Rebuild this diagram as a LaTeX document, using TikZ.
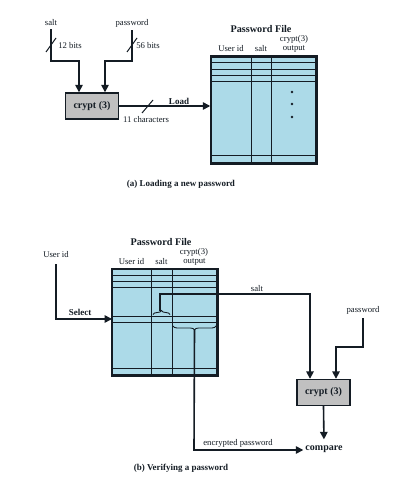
\documentclass[tikz,border=0pt]{standalone}
\usepackage{fontspec}
\setmainfont{Liberation Serif}
\usetikzlibrary{arrows.meta,decorations.pathreplacing,calc}
\definecolor{tabblue}{RGB}{172,218,232}
\definecolor{boxgray}{RGB}{192,192,192}
\definecolor{ink}{RGB}{20,28,36}
\begin{document}
\begin{tikzpicture}[x=1pt,y=-1pt,
  conn/.style={draw=ink,line width=1.6pt,-{Triangle[length=7.5pt,width=7.5pt]}},
  slashmark/.style={draw=ink,line width=1pt},
  lbl/.style={font=\fontsize{8.7}{10}\selectfont,inner sep=0pt,text=ink},
  blbl/.style={font=\fontsize{9}{10}\selectfont\bfseries,inner sep=0pt,text=ink},
  titlelbl/.style={font=\fontsize{10.2}{11}\selectfont\bfseries,inner sep=0pt,text=ink},
  cryptbox/.style={draw=ink,line width=1.4pt,fill=boxgray,minimum width=53pt,minimum height=26pt,
    font=\fontsize{10}{11}\selectfont\bfseries,inner sep=0pt,text=ink},
  table/.style={draw=ink,line width=1.5pt,fill=tabblue,minimum width=105pt,minimum height=106pt,inner sep=0pt},
  rowline/.style={draw=ink,line width=1pt},
  bracedec/.style={draw=ink,line width=0.9pt,decorate,decoration={brace,amplitude=4pt}}
]
\useasboundingbox[fill=white] (0,0) rectangle (409,500);

%% ---------------- (a) ----------------
\node[lbl] (saltA) at (51,23) {salt};
\node[lbl] (pwA) at (132,23) {password};
\node[cryptbox] (cryptA) at (92,106) {crypt (3)};
\node[table] (tabA) at (263.5,110) {};
\foreach \yy in {63,70,76,82,155} \draw[rowline] (211,\yy) -- (316,\yy);
\foreach \xx in {251,271} \draw[rowline] (\xx,57) -- (\xx,163);
\draw[draw=ink,line width=1.5pt] (tabA.north west) rectangle (tabA.south east);
\foreach \yy in {92,104,117} \fill[ink] (292,\yy) circle (1.4pt);
\node[titlelbl] (titleA) at (261,29) {Password File};
\node[lbl] (cryA) at (294,39) {crypt(3)};
\node[lbl] (uidA) at (231,49) {User id};
\node[lbl] (colsaltA) at (261,49) {salt};
\node[lbl] (outA) at (294,49) {output};

\coordinate (sa) at (79,61);
\coordinate (pa) at (105,61);
\draw[conn] (saltA.south) ++(0,3) |- (sa) -- (sa |- cryptA.north);
\draw[conn] (pwA.south) ++(0,3) |- (pa) -- (pa |- cryptA.north);
\draw[slashmark] (46,52) -- (56,38);
\draw[slashmark] (127,52) -- (137,38);
\node[lbl] (b12) at (70,46) {12 bits};
\node[lbl] (b56) at (148,46) {56 bits};

\draw[conn] (cryptA.east) -- (cryptA.east -| tabA.west);
\draw[slashmark] (142,113) -- (153,100);
\node[blbl] (load) at (179,101) {Load};
\node[lbl] (chars) at (146,120) {11 characters};

\node[blbl] (capA) at (181,184) {(a) Loading a new password};

%% ---------------- (b) ----------------
\node[table] (tabB) at (164.5,322) {};
\foreach \yy in {275,281,287,316,322,368} \draw[rowline] (112,\yy) -- (217,\yy);
\foreach \xx in {151,172} \draw[rowline] (\xx,269) -- (\xx,375);
\draw[draw=ink,line width=1.5pt] (tabB.north west) rectangle (tabB.south east);
\node[titlelbl] (titleB) at (161,242) {Password File};
\node[lbl] (cryB) at (194,252) {crypt(3)};
\node[lbl] (uidB) at (131.5,262) {User id};
\node[lbl] (colsaltB) at (161.5,262) {salt};
\node[lbl] (outB) at (194.5,262) {output};

\node[lbl] (uidIn) at (56,255) {User id};
\coordinate (selrow) at (112,319);
\draw[conn] (uidIn.south) ++(0,6) |- (selrow);
\node[blbl] (select) at (80,312) {Select};

\draw[bracedec] (153,314.5) -- (170,314.5) coordinate[midway,yshift=4pt] (saltTip);
\draw[bracedec] (216,326) -- (173,326) coordinate[midway,yshift=-4pt] (outTip);

\node[cryptbox] (cryptB) at (323.5,392.5) {crypt (3)};
\node[font=\fontsize{10}{11}\selectfont\bfseries,inner sep=2pt,text=ink] (compare) at (324,449) {compare};

\coordinate (sb1) at (160,294);
\coordinate (sb2) at (310,294);
\draw[conn] (saltTip) ++(-1.5,0) -- (sb1) -- (sb2) -- (sb2 |- cryptB.north);
\node[lbl] (saltB) at (257,289) {salt};

\node[lbl] (pwB) at (363,310) {password};
\coordinate (pb1) at (363,347);
\coordinate (pb2) at (336,347);
\draw[conn] (pwB.south) ++(0,4) -- (pb1) -- (pb2) -- (pb2 |- cryptB.north);

\draw[conn,shorten >=4pt] (cryptB.south) -- (compare.north);
\coordinate (ep) at (194,450);
\draw[conn] (outTip) -- (ep) -- (ep -| compare.west);
\node[lbl] (encl) at (238,443) {encrypted password};

\node[blbl] (capB) at (181,468) {(b) Verifying a password};
\end{tikzpicture}
\end{document}
